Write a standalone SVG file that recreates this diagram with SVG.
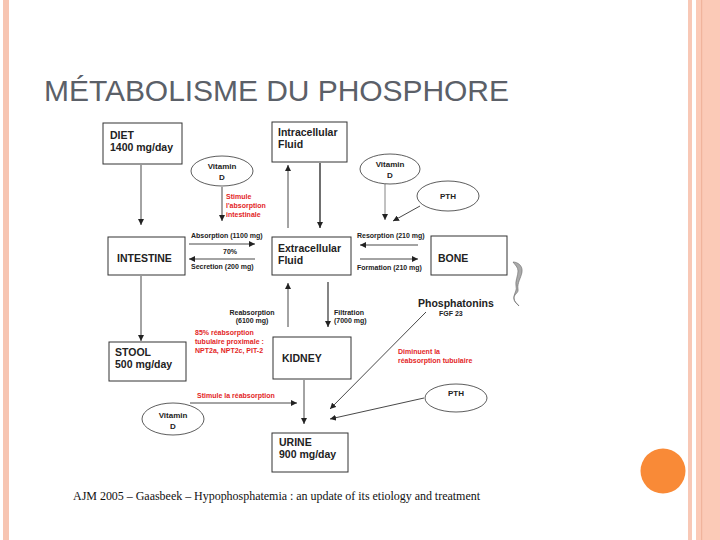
<svg xmlns="http://www.w3.org/2000/svg" width="720" height="540" viewBox="0 0 720 540">
<defs>
<style>
.box{fill:#fff;stroke:#333;stroke-width:1}
.ell{fill:#fff;stroke:#333;stroke-width:0.8}
.bt{font-family:"Liberation Sans",Arial,sans-serif;font-weight:bold;font-size:10.5px;fill:#222}
.et{font-family:"Liberation Sans",Arial,sans-serif;font-weight:bold;font-size:8px;fill:#222;text-anchor:middle}
.lb{font-family:"Liberation Sans",Arial,sans-serif;font-weight:bold;font-size:7px;fill:#222}
.rd{font-family:"Liberation Sans",Arial,sans-serif;font-weight:bold;font-size:7px;fill:#e3261f}
.ln{stroke:#333;stroke-width:0.9;fill:none;marker-end:url(#ah)}
.lg{stroke:#777;stroke-width:0.9;fill:none;marker-end:url(#ah)}
</style>
<marker id="ah" markerUnits="userSpaceOnUse" markerWidth="7" markerHeight="6" refX="6" refY="3" orient="auto">
<path d="M0,0 L6,3 L0,6 z" fill="#222"/>
</marker>
</defs>
<rect width="720" height="540" fill="#fff"/>
<rect x="3" y="0" width="6" height="540" fill="#f7c5b2"/>
<rect x="688" y="0" width="4" height="540" fill="#f8c8b6"/>
<rect x="696" y="0" width="24" height="540" fill="#fbcab7"/>
<rect x="701" y="0" width="1.2" height="540" fill="#f0b49c"/>
<circle cx="663" cy="471" r="22.5" fill="#f98a37"/>
<text x="44" y="101" font-family="Liberation Sans,Arial,sans-serif" font-size="30" fill="#5b6068" textLength="465">MÉTABOLISME DU PHOSPHORE</text>

<g id="connectors">
<line class="ln" x1="141" y1="165" x2="141" y2="225"/>
<line class="ln" x1="141" y1="276" x2="141" y2="341"/>
<line class="ln" x1="222" y1="187" x2="222" y2="221"/>
<line class="ln" x1="288" y1="228" x2="288" y2="165"/>
<line x1="320" y1="163" x2="320" y2="228" stroke="#333" stroke-width="1.4" marker-end="url(#ah)"/>
<line class="ln" x1="189" y1="244" x2="255" y2="244"/>
<line class="ln" x1="255" y1="259" x2="189" y2="259"/>
<line class="lg" x1="385" y1="184" x2="385" y2="220"/>
<line class="ln" x1="420" y1="206" x2="393" y2="221"/>
<line class="ln" x1="418" y1="245" x2="360" y2="245"/>
<line class="ln" x1="360" y1="259" x2="418" y2="259"/>
<line class="ln" x1="288" y1="327" x2="288" y2="283"/>
<line x1="328" y1="282" x2="328" y2="327" stroke="#333" stroke-width="1.2" marker-end="url(#ah)"/>
<line class="ln" x1="304" y1="380" x2="304" y2="424"/>
<line class="ln" x1="426" y1="312" x2="330" y2="409"/>
<line class="ln" x1="424" y1="398" x2="330" y2="419"/>
<line class="ln" x1="190" y1="403" x2="297" y2="403"/>
</g>

<g id="diet"><rect class="box" x="103" y="123" width="79" height="41"/>
<text class="bt" x="110" y="139">DIET</text><text class="bt" x="110" y="151">1400 mg/day</text></g>
<g id="intracellular"><rect class="box" x="272" y="122" width="75" height="40"/>
<text class="bt" x="278" y="136" font-size="10">Intracellular</text><text class="bt" x="278" y="148" font-size="10">Fluid</text></g>
<g id="vitd1"><ellipse class="ell" cx="222" cy="171" rx="31" ry="15"/>
<text class="et" x="222" y="169">Vitamin</text><text class="et" x="222" y="180">D</text></g>
<g id="vitd2"><ellipse class="ell" cx="390" cy="169" rx="30" ry="15"/>
<text class="et" x="390" y="167">Vitamin</text><text class="et" x="390" y="178">D</text></g>
<g id="pth1"><ellipse class="ell" cx="448" cy="196" rx="31" ry="15"/>
<text class="et" x="448" y="199">PTH</text></g>
<g id="intestine"><rect class="box" x="108" y="237" width="77" height="38"/>
<text class="bt" x="117" y="262">INTESTINE</text></g>
<g id="extracellular"><rect class="box" x="272" y="237" width="79" height="38"/>
<text class="bt" x="278" y="252" font-size="11">Extracellular</text><text class="bt" x="278" y="264" font-size="11">Fluid</text></g>
<g id="bone"><rect class="box" x="431" y="236" width="76" height="39"/>
<text class="bt" x="438" y="262">BONE</text></g>
<g id="kidney"><rect class="box" x="273" y="337" width="78" height="42"/>
<text class="bt" x="282" y="362">KIDNEY</text></g>
<g id="stool"><rect class="box" x="109" y="342" width="77" height="39"/>
<text class="bt" x="115" y="356">STOOL</text><text class="bt" x="115" y="368">500 mg/day</text></g>
<g id="urine"><rect class="box" x="272" y="433" width="76" height="39"/>
<text class="bt" x="279" y="446">URINE</text><text class="bt" x="279" y="458">900 mg/day</text></g>
<g id="vitd3"><ellipse class="ell" cx="173" cy="419" rx="31" ry="16"/>
<text class="et" x="173" y="418">Vitamin</text><text class="et" x="173" y="429">D</text></g>
<g id="pth2"><ellipse class="ell" cx="456" cy="398" rx="31" ry="14"/>
<text class="et" x="456" y="396">PTH</text></g>
<g id="phosphatonins">
<text class="bt" x="418" y="307">Phosphatonins</text>
<text class="lb" x="439" y="316" font-size="6">FGF 23</text></g>
<path d="M513,262 C518,262 523,266 522,272 C521,278 517,283 518,289 C519,293 514,294 514,298 C514,302 518,304 519,306 C516,303 513,301 514,296 C515,292 517,290 516,286 C515,281 518,276 518,271 C518,267 515,265 513,262 Z" fill="#aaa" stroke="#666" stroke-width="0.6"/>

<g id="labels">
<text class="rd" x="226" y="199">Stimule</text>
<text class="rd" x="226" y="208">l'absorption</text>
<text class="rd" x="226" y="217">intestinale</text>
<text class="lb" x="191" y="238">Absorption (1100 mg)</text>
<text class="lb" x="230" y="254" text-anchor="middle">70%</text>
<text class="lb" x="191" y="269">Secretion (200 mg)</text>
<text class="lb" x="357" y="238">Resorption (210 mg)</text>
<text class="lb" x="357" y="270">Formation (210 mg)</text>
<text class="lb" x="252" y="315" text-anchor="middle" font-size="6.5">Reabsorption</text>
<text class="lb" x="252" y="323" text-anchor="middle" font-size="6.5">(6100 mg)</text>
<text class="lb" x="334" y="315" font-size="6.5">Filtration</text>
<text class="lb" x="334" y="323" font-size="6.5">(7000 mg)</text>
<text class="rd" x="195" y="335">85% réabsorption</text>
<text class="rd" x="195" y="344">tubulaire proximale :</text>
<text class="rd" x="195" y="353">NPT2a, NPT2c, PIT-2</text>
<text class="rd" x="398" y="354">Diminuent la</text>
<text class="rd" x="398" y="363">réabsorption tubulaire</text>
<text class="rd" x="197" y="398">Stimule la réabsorption</text>
</g>
<text x="73" y="500" font-family="Liberation Serif,Times New Roman,serif" font-size="12" fill="#111" textLength="407">AJM 2005 – Gaasbeek – Hypophosphatemia : an update of its etiology and treatment</text>
</svg>
